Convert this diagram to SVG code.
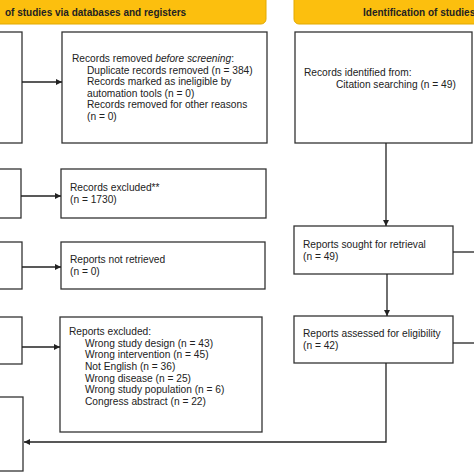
<svg xmlns="http://www.w3.org/2000/svg" width="474" height="474" viewBox="0 0 474 474">
<style>
.box{fill:#fff;stroke:#333;stroke-width:1.3}
.hdr{fill:#fcbf0e;stroke:#e2a900;stroke-width:1}
.t{font-family:"Liberation Sans",Arial,sans-serif;font-size:10.2px;fill:#222}
.h{font-family:"Liberation Sans",Arial,sans-serif;font-size:10px;font-weight:bold;fill:#222}
.c{fill:none;stroke:#222;stroke-width:1.3}
</style>
<defs>
<marker id="ah" viewBox="0 0 10 10" refX="10" refY="5" markerWidth="6" markerHeight="6" markerUnits="userSpaceOnUse" orient="auto">
<path d="M0,0 L10,5 L0,10 Z" fill="#222"/>
</marker>
</defs>
<rect width="474" height="474" fill="#fff"/>
<g id="header-left"><rect class="hdr" x="-10" y="-6" width="276" height="30" rx="5"/><text class="h" x="5" y="16">of studies via databases and registers</text></g>
<g id="header-right"><rect class="hdr" x="294" y="-6" width="200" height="30" rx="5"/><text class="h" x="363" y="16">Identification of studies</text></g>

<g id="box-left-1"><rect class="box" x="-10" y="32" width="32" height="111"/></g>
<g id="box-left-2"><rect class="box" x="-10" y="169" width="31" height="49"/></g>
<g id="box-left-3"><rect class="box" x="-10" y="242" width="32" height="47"/></g>
<g id="box-left-4"><rect class="box" x="-10" y="317" width="32" height="47"/></g>
<g id="box-left-5"><rect class="box" x="-10" y="397" width="33" height="74"/></g>

<g id="records-removed"><rect class="box" x="62" y="32" width="205" height="111"/>
<text class="t" x="72" y="62">Records removed <tspan font-style="italic">before screening</tspan>:</text>
<text class="t" x="87" y="73.5">Duplicate records removed  (n = 384)</text>
<text class="t" x="87" y="85">Records marked as ineligible by</text>
<text class="t" x="87" y="96.5">automation tools (n = 0)</text>
<text class="t" x="87" y="108">Records removed for other reasons</text>
<text class="t" x="87" y="119.5">(n = 0)</text>
</g>
<g id="records-excluded"><rect class="box" x="61" y="169" width="205" height="49"/>
<text class="t" x="70" y="191">Records excluded**</text>
<text class="t" x="70" y="203">(n = 1730)</text>
</g>
<g id="reports-not-retrieved"><rect class="box" x="61" y="242" width="204" height="47"/>
<text class="t" x="70" y="263">Reports not retrieved</text>
<text class="t" x="70" y="275">(n = 0)</text>
</g>
<g id="reports-excluded"><rect class="box" x="60" y="317" width="202" height="115"/>
<text class="t" x="69" y="335">Reports excluded:</text>
<text class="t" x="85" y="346.7">Wrong study design (n = 43)</text>
<text class="t" x="85" y="358.3">Wrong intervention (n = 45)</text>
<text class="t" x="85" y="370">Not English (n = 36)</text>
<text class="t" x="85" y="381.7">Wrong disease (n = 25)</text>
<text class="t" x="85" y="393.3">Wrong study population (n = 6)</text>
<text class="t" x="85" y="405">Congress abstract (n = 22)</text>
</g>
<g id="records-identified"><rect class="box" x="295" y="32" width="177" height="111"/>
<text class="t" x="304" y="76">Records identified from:</text>
<text class="t" x="336" y="88">Citation searching (n = 49)</text>
</g>
<g id="reports-sought"><rect class="box" x="294" y="226" width="159" height="48"/>
<text class="t" x="303" y="248">Reports sought for retrieval</text>
<text class="t" x="303" y="260">(n = 49)</text>
</g>
<g id="reports-assessed"><rect class="box" x="294" y="316" width="159" height="47"/>
<text class="t" x="303" y="337">Reports assessed for eligibility</text>
<text class="t" x="303" y="349">(n = 42)</text>
</g>

<g id="connectors">
<line class="c" x1="22" y1="82" x2="62" y2="82" marker-end="url(#ah)"/>
<line class="c" x1="21" y1="196" x2="61" y2="196" marker-end="url(#ah)"/>
<line class="c" x1="22" y1="267" x2="61" y2="267" marker-end="url(#ah)"/>
<line class="c" x1="22" y1="347" x2="60" y2="347" marker-end="url(#ah)"/>
<line class="c" x1="386" y1="143" x2="386" y2="226" marker-end="url(#ah)"/>
<line class="c" x1="387" y1="274" x2="387" y2="316" marker-end="url(#ah)"/>
<line class="c" x1="453" y1="252" x2="480" y2="252"/>
<line class="c" x1="453" y1="343" x2="480" y2="343"/>
<path class="c" d="M386,363 V442 H24" marker-end="url(#ah)"/>
</g>
</svg>
